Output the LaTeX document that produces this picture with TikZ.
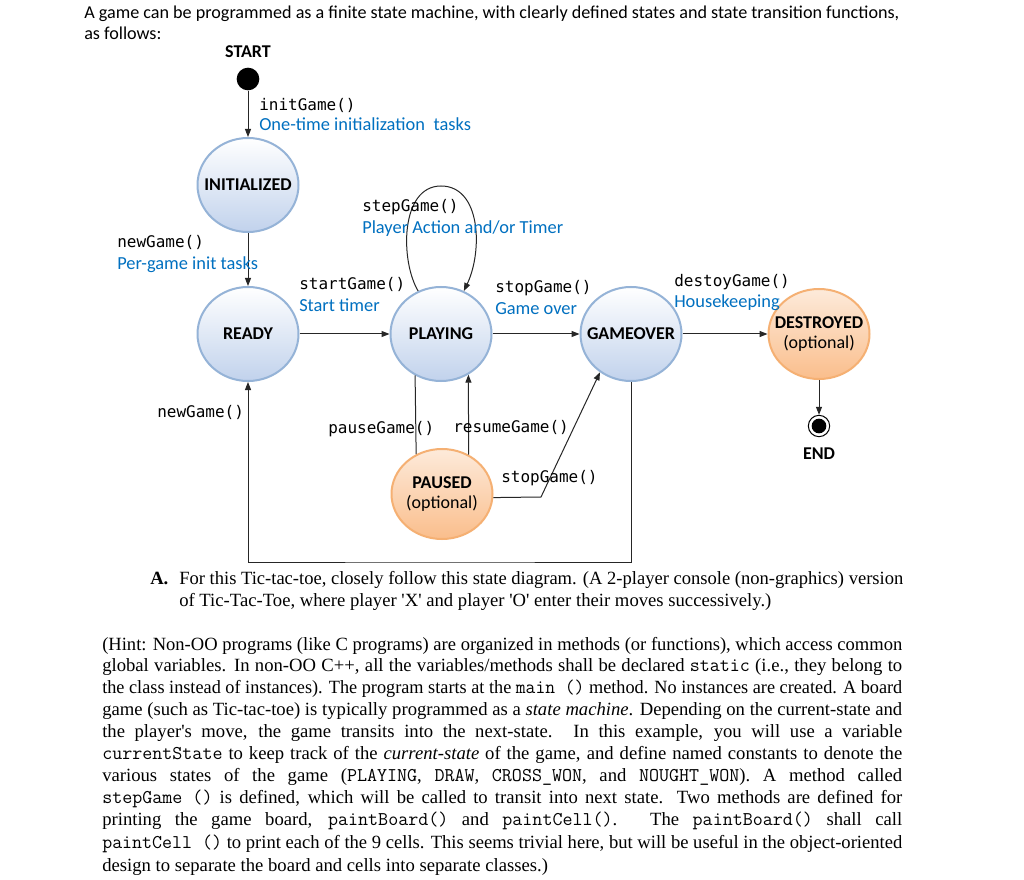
\documentclass[tikz,border=0pt]{standalone}
\usepackage{fontspec}
\setmainfont{Carlito}
\newfontfamily\tnr{Liberation Serif}
\newfontfamily\cons{DejaVu Sans Mono}
\usepackage{graphicx}
\usetikzlibrary{arrows.meta,shapes.geometric,calc}
\definecolor{lblue}{RGB}{0,112,192}
\definecolor{bborder}{RGB}{149,179,215}
\definecolor{bbottom}{RGB}{193,210,236}
\definecolor{oborder}{RGB}{245,176,115}
\definecolor{otop}{RGB}{253,234,218}
\definecolor{obottom}{RGB}{250,190,140}
\newlength\jw
\newcommand\jline[2]{\settowidth\jw{#2}\ifdim\jw>#1\relax\resizebox{#1}{\height}{#2}\else\makebox[#1][s]{#2}\fi}
\newcommand\cw[1]{{\ttfamily\fontsize{14.6}{16}\selectfont #1}}
\newcommand\sq{\textquotesingle}
\begin{document}
\begin{tikzpicture}[x=0.75pt,y=-0.75pt,
  statefont/.style={font=\fontsize{13.5}{15}\selectfont\bfseries, align=center, inner sep=0pt},
  bstate/.style={ellipse, minimum width=75.75pt, minimum height=70.5pt, inner sep=0pt,
    line width=1.5pt, draw=bborder, top color=white, bottom color=bbottom,
    label={[statefont]center:#1}},
  ostate/.style={bstate={#1}, minimum height=67.5pt, draw=oborder, top color=otop, bottom color=obottom},
  conn/.style={line width=0.75pt, draw=black!85, -{Triangle[length=6pt,width=4.5pt]}},
  plainline/.style={line width=0.75pt, draw=black!85},
  codelbl/.style={font=\cons\fontsize{12}{14}\selectfont, inner sep=0pt, anchor=base west},
  bluelbl/.style={font=\fontsize{13.8}{16}\selectfont, text=lblue, inner sep=0pt, anchor=base west},
  boldlbl/.style={font=\fontsize{13.5}{15}\selectfont\bfseries, inner sep=0pt},
  toptext/.style={font=\fontsize{13.6}{16}\selectfont, inner sep=0pt, anchor=base west},
  bodytxt/.style={font=\tnr\fontsize{14}{16}\selectfont, inner sep=0pt, anchor=base west}
]
\useasboundingbox (0,0) rectangle (1024,880);
\fill[white] (0,0) rectangle (1024,880);

% top text
\node[toptext] (t1) at (84,19) {A game can be programmed as a finite state machine, with clearly defined states and state transition functions,};
\node[toptext] (t2) at (84,40) {as follows:};

% states
\node[bstate=INITIALIZED] (init) at (248,185) {};
\node[bstate=READY] (ready) at (248,334) {};
\node[bstate=PLAYING] (play) at (441,334) {};
\node[bstate=GAMEOVER] (go) at (631,334) {};
\node[ostate={DESTROYED\\{\mdseries (optional)}}] (dest) at (819,334) {};
\node[ostate={PAUSED\\{\mdseries (optional)}}] (paused) at (442,494) {};

% start / end
\node[boldlbl] (startlbl) at (248,52) {START};
\node[circle, fill=black, minimum size=17pt, inner sep=0pt] (start) at (248,79) {};
\node[circle, draw=black, line width=0.75pt, fill=white, minimum size=16pt, inner sep=0pt] (endc) at (819,426) {};
\node[circle, fill=black, minimum size=11pt, inner sep=0pt] (endd) at (819,426) {};
\node[boldlbl] (endlbl) at (819,454) {END};

% coordinates
\coordinate (bend) at (541,497);
\coordinate (loopbot) at (440,562);
\coordinate (looptop) at (441,186);

% connectors
\draw[conn] (start) -- (init);
\draw[conn] (init) -- (ready);
\draw[conn] (ready) -- (play);
\draw[conn] (play) -- (go);
\draw[conn] (go) -- (dest);
\draw[conn] (dest) -- (endc);
\draw[conn] (play.118) .. controls +(-18,-30) and +(-41,0) .. (looptop)
  .. controls +(40,0) and +(19,-40) .. (play.62);
\draw[plainline] (play.238.6) -- (paused.123.5);
\draw[conn] (paused.56.5) -- (play.304.1);
\draw[conn] (paused.356) -- (bend) -- (go.231);
\draw[conn] (go.south) |- (loopbot) -| (ready.south);

% labels
\node[codelbl] (l1) at (259,111) {initGame()};
\node[bluelbl] (l1b) at (259,131) {One-time initialization\hspace{0.25em} tasks};
\node[codelbl] (l2) at (117,248) {newGame()};
\node[bluelbl] (l2b) at (117,270) {Per-game init tasks};
\node[codelbl] (l3) at (299,290) {startGame()};
\node[bluelbl] (l3b) at (299,312) {Start timer};
\node[codelbl] (l4) at (362,212) {stepGame()};
\node[bluelbl] (l4b) at (362,234) {Player Action and/or Timer};
\node[codelbl] (l5) at (495,293) {stopGame()};
\node[bluelbl] (l5b) at (495,315) {Game over};
\node[codelbl] (l6) at (674,287) {destoyGame()};
\node[bluelbl] (l6b) at (674,308) {Housekeeping};
\node[codelbl] (l7) at (328,433) {pauseGame()};
\node[codelbl] (l8) at (453,432) {resumeGame()};
\node[codelbl] (l9) at (501,482) {stopGame()};
\node[codelbl] (l10) at (157,417) {newGame()};

% body text
\node[bodytxt, font=\tnr\bfseries\fontsize{14}{16}\selectfont] (A) at (150,584) {A.};
\node[bodytxt] (a1) at (179,584) {\jline{543pt}{For this Tic-tac-toe, closely follow this state diagram. (A 2-player console (non-graphics) version}};
\node[bodytxt] (a2) at (179,606) {of Tic-Tac-Toe, where player \sq X\sq\ and player \sq O\sq\ enter their moves successively.)};

\node[bodytxt] (h1) at (102,650) {\jline{600pt}{(Hint: Non-OO programs (like C programs) are organized in methods (or functions), which access common}};
\node[bodytxt] (h2) at (102,671) {\jline{600pt}{global variables. In non-OO C++, all the variables/methods shall be declared \cw{static} (i.e., they belong to}};
\node[bodytxt] (h3) at (102,693) {\jline{600pt}{the class instead of instances). The program starts at the \cw{main~()} method. No instances are created. A board}};
\node[bodytxt] (h4) at (102,715) {\jline{600pt}{game (such as Tic-tac-toe) is typically programmed as a \textit{state machine}. Depending on the current-state and}};
\node[bodytxt] (h5) at (102,737) {\jline{600pt}{the player\sq s move, the game transits into the next-state. In this example, you will use a variable}};
\node[bodytxt] (h6) at (102,759) {\jline{600pt}{\cw{currentState} to keep track of the \textit{current-state} of the game, and define named constants to denote the}};
\node[bodytxt] (h7) at (102,781) {\jline{600pt}{various states of the game (\cw{PLAYING}, \cw{DRAW}, \cw{CROSS\_WON}, and \cw{NOUGHT\_WON}). A method called}};
\node[bodytxt] (h8) at (102,803) {\jline{600pt}{\cw{stepGame~()} is defined, which will be called to transit into next state. Two methods are defined for}};
\node[bodytxt] (h9) at (102,825) {\jline{600pt}{printing the game board, \cw{paintBoard()} and \cw{paintCell()}. The \cw{paintBoard()} shall call}};
\node[bodytxt] (h10) at (102,848) {\jline{600pt}{\cw{paintCell~()} to print each of the 9 cells. This seems trivial here, but will be useful in the object-oriented}};
\node[bodytxt] (h11) at (102,871) {design to separate the board and cells into separate classes.)};
\end{tikzpicture}
\end{document}
